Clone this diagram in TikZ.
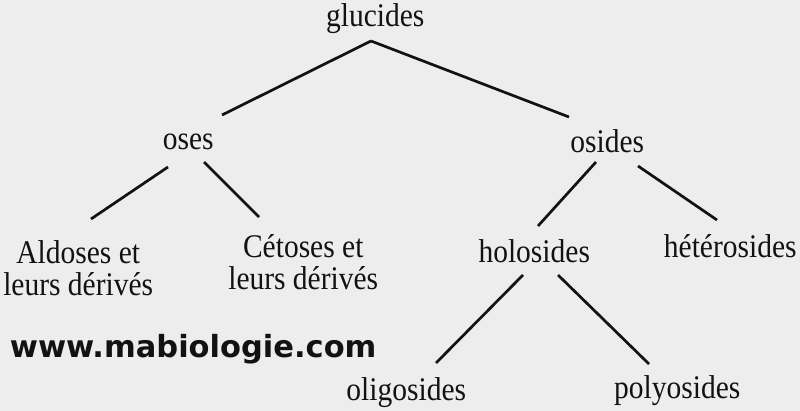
\documentclass[tikz,border=0pt]{standalone}
\usepackage{fontspec}
\setmainfont{Liberation Serif}
\newfontfamily\sitefont{DejaVu Sans}
\usetikzlibrary{calc}
\definecolor{paper}{RGB}{237,237,237}
\definecolor{ink}{RGB}{18,18,18}

\begin{document}
\begin{tikzpicture}[x=1pt,y=-1pt,line width=2.7pt,color=ink]
				\newcommand{\myfontlabels}{
					\fontsize{29.5}{27}\selectfont
				}\newcommand{\myfontsite}{
					\sitefont\bfseries\fontsize{30.5}{32}\selectfont
				}\newcommand{\mytall}[1]{
					\scalebox{1}[1.12]{#1}
				}%Page
				\fill [paper] (0,0) rectangle (800,411);
				\useasboundingbox (0,0) rectangle (800,411);
				%Root of the tree
				\node [anchor=base, font=\myfontlabels] (glucides) at (374,27) {\mytall{glucides}};
				%First level
				\node [anchor=base, font=\myfontlabels] (oses) at (187,150) {\mytall{oses}};
				\node [anchor=base, font=\myfontlabels] (osides) at (606,153) {\mytall{osides}};
				%Second level
				\node [font=\myfontlabels] (aldoses) at (77,273) {\mytall{\begin{tabular}{@{}c@{}}Aldoses et\\leurs dérivés\end{tabular}}};
				\node [font=\myfontlabels] (cetoses) at (302,267) {\mytall{\begin{tabular}{@{}c@{}}Cétoses et\\leurs dérivés\end{tabular}}};
				\node [anchor=base, font=\myfontlabels] (holosides) at (533,263) {\mytall{holosides}};
				\node [anchor=base, font=\myfontlabels] (heterosides) at (729,258) {\mytall{hétérosides}};
				%Third level
				\node [anchor=base, font=\myfontlabels] (oligosides) at (405,400) {\mytall{oligosides}};
				\node [anchor=base, font=\myfontlabels] (polyosides) at (676,398) {\mytall{polyosides}};
				%The site name
				\node [anchor=base west, font=\myfontsite, inner sep=0pt] (site) at (6,357) {www.mabiologie.com};
				%Ends of the branches
				\coordinate (glucidesB) at (371,41);
				\coordinate (osesT) at (222,115);
				\coordinate (osidesT) at (569,117);
				\coordinate (osesL) at (168,167);
				\coordinate (osesR) at (204,162);
				\coordinate (aldosesT) at (91,219);
				\coordinate (cetosesT) at (259,217);
				\coordinate (osidesL) at (596,162);
				\coordinate (osidesR) at (638,166);
				\coordinate (holosidesT) at (538,226);
				\coordinate (heterosidesT) at (717,220);
				\coordinate (holosidesL) at (523,275);
				\coordinate (holosidesR) at (558,275);
				\coordinate (oligosidesT) at (436,363);
				\coordinate (polyosidesT) at (649,364);
				%Branches
				\draw (glucidesB) -- (osesT);
				\draw (glucidesB) -- (osidesT);
				\draw (osesL) -- (aldosesT);
				\draw (osesR) -- (cetosesT);
				\draw (osidesL) -- (holosidesT);
				\draw (osidesR) -- (heterosidesT);
				\draw (holosidesL) -- (oligosidesT);
				\draw (holosidesR) -- (polyosidesT);
\end{tikzpicture}
\end{document}
